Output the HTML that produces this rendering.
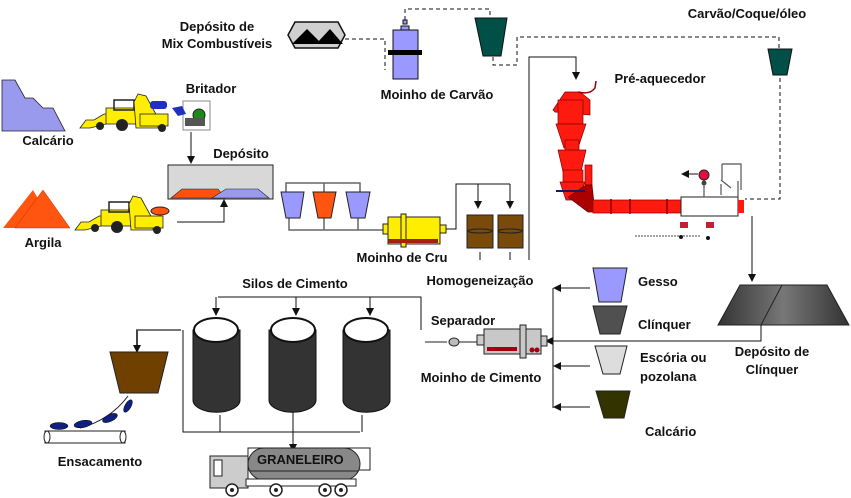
<!DOCTYPE html>
<html><head><meta charset="utf-8"><style>
html,body{margin:0;padding:0;background:#fff}
svg{display:block}
text{font-family:"Liberation Sans",Arial,sans-serif;font-weight:bold;font-size:13px;fill:#111}
</style></head><body>
<svg width="851" height="498" viewBox="0 0 851 498" xmlns="http://www.w3.org/2000/svg">
<defs>
<marker id="a" markerWidth="8" markerHeight="8" refX="4" refY="4" orient="auto" markerUnits="userSpaceOnUse"><path d="M0,0 L8,4 L0,8 Z" fill="#111"/></marker>
<linearGradient id="gr" x1="0" x2="1"><stop offset="0" stop-color="#333"/><stop offset=".5" stop-color="#777"/><stop offset="1" stop-color="#333"/></linearGradient>
<g id="ld">
<polygon points="0,34 6,26 14,26 24,20 34,20 34,28 10,34" fill="#ffee00" stroke="#222" stroke-width=".8"/>
<rect x="26" y="14" width="34" height="16" fill="#ffee00" stroke="#222" stroke-width=".8"/>
<rect x="34" y="6" width="20" height="10" fill="none" stroke="#222" stroke-width="1.5"/>
<polygon points="54,8 58,0 66,2 78,24 78,34 56,34" fill="#ffee00" stroke="#222" stroke-width=".8"/>
<rect x="60" y="20" width="28" height="12" fill="#ffee00" stroke="#222" stroke-width=".8"/>
<circle cx="20" cy="32" r="4" fill="#222"/><circle cx="42" cy="31" r="6" fill="#222"/><circle cx="82" cy="34" r="4" fill="#222"/>
</g>
</defs>
<!-- labels top -->
<text x="217" y="31" text-anchor="middle">Depósito de</text>
<text x="217" y="48" text-anchor="middle">Mix Combustíveis</text>
<text x="437" y="99" text-anchor="middle">Moinho de Carvão</text>
<text x="747" y="18" text-anchor="middle">Carvão/Coque/óleo</text>
<text x="660" y="83" text-anchor="middle">Pré-aquecedor</text>
<text x="211" y="93" text-anchor="middle">Britador</text>
<text x="48" y="145" text-anchor="middle">Calcário</text>
<text x="241" y="158" text-anchor="middle">Depósito</text>
<text x="43" y="247" text-anchor="middle">Argila</text>
<text x="402" y="262" text-anchor="middle">Moinho de Cru</text>
<text x="480" y="285" text-anchor="middle">Homogeneização</text>

<!-- mix deposit -->
<polygon points="295,22 338,22 345,35 338,48 295,48 288,35" fill="#d0d0d0" stroke="#111" stroke-width="1.5"/>
<polygon points="292,44 307,29 322,44" fill="#000"/><polygon points="316,44 330,29 343,44" fill="#000"/>
<path d="M345,39 H385 V70" fill="none" stroke="#111" stroke-dasharray="4,3"/>
<!-- coal mill -->
<rect x="393" y="30" width="25" height="49" fill="#9999ff" stroke="#111"/>
<rect x="388" y="50" width="34" height="5" fill="#000"/>
<rect x="401" y="26" width="8" height="4" fill="#9999ff" stroke="#111"/>
<rect x="403" y="20" width="4" height="4" fill="#9999ff" stroke="#111"/>
<path d="M405,20 V9 H490 V18" fill="none" stroke="#111" stroke-dasharray="4,3"/>
<polygon points="475,18 507,18 501,56 483,56" fill="#005048" stroke="#111"/>
<path d="M493,57 V65 H517 V37 H779 V49" fill="none" stroke="#111" stroke-dasharray="4,3"/>
<polygon points="768,49 792,49 787,75 773,75" fill="#005048" stroke="#111"/>
<path d="M780,78 V199 H745" fill="none" stroke="#111" stroke-dasharray="4,3"/>
<!-- feed line -->
<path d="M529,260 V57 H576 V76" fill="none" stroke="#111" marker-end="url(#a)"/>
<!-- preheater -->
<g fill="#ff1a10" stroke="#800" stroke-width="0.7">
<polygon points="553,110 565,92 580,92 590,100 590,115 555,112"/>
<rect x="558" y="100" width="25" height="24"/>
<polygon points="556,124 586,124 578,148 564,148"/>
<rect x="565" y="140" width="14" height="14"/>
<polygon points="558,150 586,150 580,176 564,176"/>
<rect x="563" y="170" width="20" height="12"/>
<polygon points="560,182 585,182 578,200 566,200"/>
<rect x="585" y="165" width="7" height="20"/>
</g>
<polygon points="568,197 586,185 592,185 595,212 588,212" fill="#a00" stroke="#600" stroke-width="0.7"/>
<path d="M578,92 Q590,95 595,88 L596,81" fill="none" stroke="#900" stroke-width="1.5"/>
<line x1="556" y1="191" x2="585" y2="191" stroke="#1a1a5a" stroke-width="2"/>
<rect x="593" y="200" width="88" height="13" fill="#ff1a10" stroke="#800" stroke-width="0.7"/>
<g stroke="#800" stroke-width="1.5"><line x1="611" y1="199" x2="611" y2="214"/><line x1="630" y1="199" x2="630" y2="214"/><line x1="667" y1="199" x2="667" y2="214"/></g>
<rect x="681" y="197" width="57" height="19" fill="#fff" stroke="#222"/>
<rect x="738" y="200" width="6" height="13" fill="#ff1a10"/>
<path d="M722,164 H741 V190 M722,164 V180 M721,180 L731,188 M721,195 V184 M704,185 V197 M738,181 V197" fill="none" stroke="#555" stroke-width="1.2"/>
<circle cx="704" cy="175" r="5" fill="#e01040" stroke="#222"/>
<path d="M698,174 H685" stroke="#111" marker-end="url(#a)"/>
<circle cx="704" cy="183" r="2.5" fill="#444"/>
<rect x="680" y="222" width="8" height="6" fill="#c02030"/><rect x="706" y="222" width="8" height="6" fill="#c02030"/>
<path d="M635,236 H700" stroke="#444" stroke-dasharray="2,1"/><circle cx="681" cy="237" r="2" fill="#111"/><circle cx="708" cy="238" r="2" fill="#111"/>
<path d="M752,216 V278" stroke="#111" marker-end="url(#a)"/>

<!-- limestone & crusher -->
<polygon points="2,131 2,80 15,80 25,98 33,98 43,108 53,108 65,131" fill="#9999ee" stroke="#222" stroke-width="0.8"/>
<use href="#ld" x="80" y="94"/>
<rect x="150" y="101" width="17" height="8" rx="3" fill="#2030c0"/>
<rect x="183" y="101" width="27" height="29" fill="none" stroke="#888"/>
<circle cx="199" cy="115" r="6" fill="#1a8a1a" stroke="#222"/>
<rect x="185" y="118" width="20" height="8" fill="#555"/>
<polygon points="172,108 182,106 186,114 178,116" fill="#2030c0"/>
<path d="M191,132 V160" stroke="#111" marker-end="url(#a)"/>
<!-- deposit -->
<rect x="168" y="165" width="105" height="34" fill="#d8d8d8" stroke="#222"/>
<polygon points="171,198 182,189 218,189 225,198" fill="#ff5010" stroke="#222" stroke-width=".6"/>
<polygon points="212,198 226,189 258,189 269,198" fill="#9999ee" stroke="#222" stroke-width=".6"/>
<path d="M177,222 H224 V203" fill="none" stroke="#111" marker-end="url(#a)"/>
<!-- clay -->
<polygon points="3,228 33,190 55,228" fill="#ff5510"/>
<polygon points="15,228 43,190 70,228" fill="#ff5510" stroke="#c03000" stroke-width=".5"/>
<use href="#ld" x="75" y="196"/>
<ellipse cx="160" cy="211" rx="9" ry="4" fill="#ff5510" stroke="#222"/>
<!-- raw hoppers -->
<path d="M286,192 V183 H360 V192 M324,183 V192 M289,218 V230 H383 M324,218 V230 M358,218 V230" fill="none" stroke="#666" stroke-width="1.5"/>
<polygon points="281,192 304,192 300,218 286,218" fill="#9999ff" stroke="#222"/>
<polygon points="313,192 336,192 331,218 318,218" fill="#ff5510" stroke="#222"/>
<polygon points="346,192 370,192 365,218 351,218" fill="#9999ff" stroke="#222"/>
<!-- raw mill -->
<rect x="383" y="224" width="5" height="10" fill="#ffee00" stroke="#222"/>
<rect x="388" y="217" width="52" height="27" fill="#ffee00" stroke="#222"/>
<rect x="401" y="214" width="5" height="33" fill="#ffee00" stroke="#222"/>
<rect x="388" y="239" width="50" height="4" fill="#a02010"/>
<rect x="440" y="225" width="6" height="8" fill="#ffee00" stroke="#222"/>
<path d="M446,229 H456 V184 H510" fill="none" stroke="#111"/>
<path d="M478,184 V205" stroke="#111" marker-end="url(#a)"/><path d="M510,184 V205" stroke="#111" marker-end="url(#a)"/>
<rect x="467" y="215" width="26" height="33" fill="#7a4a0a" stroke="#222"/>
<rect x="498" y="215" width="25" height="33" fill="#7a4a0a" stroke="#222"/>
<ellipse cx="480" cy="231" rx="12" ry="2" fill="none" stroke="#222"/><ellipse cx="510" cy="231" rx="12" ry="2" fill="none" stroke="#222"/>
<path d="M480,252 V260 M510,252 V260" stroke="#111"/>

<!-- clinker deposit -->
<polygon points="740,285 827,285 849,325 718,325" fill="url(#gr)" stroke="#222"/>
<line x1="782" y1="285" x2="761" y2="325" stroke="#222"/>
<path d="M761,325 V341 H549" fill="none" stroke="#111" marker-end="url(#a)"/>
<text x="772" y="356" text-anchor="middle">Depósito de</text>
<text x="772" y="374" text-anchor="middle">Clínquer</text>
<!-- additives -->
<path d="M553,408 V288" stroke="#111"/>
<path d="M590,288 H557" stroke="#111" marker-end="url(#a)"/>
<path d="M590,366 H557" stroke="#111" marker-end="url(#a)"/>
<path d="M590,407 H557" stroke="#111" marker-end="url(#a)"/>
<polygon points="593,268 627,268 621,302 599,302" fill="#9999ff" stroke="#222"/>
<polygon points="593,306 627,306 620,334 600,334" fill="#505050" stroke="#222"/>
<polygon points="595,346 627,346 620,374 603,374" fill="#ddd" stroke="#222"/>
<polygon points="596,391 630,391 624,418 604,418" fill="#333300" stroke="#222"/>
<text x="638" y="286">Gesso</text>
<text x="638" y="329">Clínquer</text>
<text x="640" y="362">Escória ou</text>
<text x="640" y="381">pozolana</text>
<text x="645" y="436">Calcário</text>
<!-- cement mill -->
<rect x="477" y="335" width="7" height="10" fill="#ccc" stroke="#222"/>
<rect x="484" y="329" width="57" height="25" fill="#c8c8c8" stroke="#222"/>
<rect x="520" y="325" width="6" height="33" fill="#c8c8c8" stroke="#222"/>
<rect x="541" y="336" width="6" height="10" fill="#ccc" stroke="#222"/>
<g fill="#a00010"><rect x="487" y="347" width="30" height="4"/><circle cx="532" cy="350" r="2.5"/><circle cx="537" cy="350" r="2.5"/></g>
<path d="M425,342 H447" stroke="#222"/><ellipse cx="454" cy="342" rx="5" ry="4" fill="#bbb" stroke="#222"/><path d="M459,342 H477" stroke="#222"/>
<text x="463" y="325" text-anchor="middle">Separador</text>
<text x="481" y="382" text-anchor="middle">Moinho de Cimento</text>
<!-- cement silos -->
<text x="295" y="288" text-anchor="middle">Silos de Cimento</text>
<path d="M218,297 H421 V330" fill="none" stroke="#111"/>
<path d="M216,297 V312" stroke="#111" marker-end="url(#a)"/>
<path d="M296,297 V312" stroke="#111" marker-end="url(#a)"/>
<path d="M370,297 V312" stroke="#111" marker-end="url(#a)"/>
<g fill="#333" stroke="#111">
<path d="M193,330 V400 A23,12 0 0 0 240,400 V330 Z"/>
<path d="M269,330 V400 A23,12 0 0 0 316,400 V330 Z"/>
<path d="M343,330 V400 A23,12 0 0 0 390,400 V330 Z"/>
</g>
<g fill="#fff" stroke="#111" stroke-width="2">
<ellipse cx="216" cy="330" rx="22" ry="12"/><ellipse cx="293" cy="330" rx="22" ry="12"/><ellipse cx="366" cy="330" rx="22" ry="12"/>
</g>
<path d="M183,330 V432 H360 M220,415 V432 M362,415 V432" fill="none" stroke="#111"/>
<path d="M293,412 V448" stroke="#111" marker-end="url(#a)"/>
<!-- bagging -->
<path d="M181,330 H137 V349" fill="none" stroke="#777" stroke-width="2"/>
<path d="M137,330 V349" stroke="#111" marker-end="url(#a)"/>
<polygon points="110,352 168,352 158,393 120,393" fill="#704000" stroke="#222"/>
<path d="M128,396 Q110,420 80,428" fill="none" stroke="#222"/>
<g fill="#102080" stroke="#000" stroke-width=".5">
<ellipse cx="128" cy="406" rx="3" ry="7" transform="rotate(30 128 406)"/>
<ellipse cx="110" cy="418" rx="8" ry="3.5" transform="rotate(-25 110 418)"/>
<ellipse cx="83" cy="424" rx="9" ry="3.5" transform="rotate(-10 83 424)"/>
<ellipse cx="59" cy="426" rx="9" ry="3.5"/>
</g>
<rect x="45" y="431" width="80" height="12" fill="#fff" stroke="#222"/>
<ellipse cx="47" cy="437" rx="3" ry="6" fill="#fff" stroke="#222"/><ellipse cx="123" cy="437" rx="3" ry="6" fill="#fff" stroke="#222"/>
<text x="100" y="466" text-anchor="middle">Ensacamento</text>
<!-- truck -->
<rect x="248" y="448" width="122" height="22" fill="none" stroke="#222"/>
<rect x="248" y="448" width="112" height="32" rx="16" fill="#888" stroke="#222"/>
<line x1="250" y1="471" x2="358" y2="471" stroke="#222"/>
<rect x="210" y="456" width="38" height="32" fill="#ccc" stroke="#222"/>
<rect x="214" y="460" width="8" height="16" fill="#fff" stroke="#222"/>
<rect x="246" y="479" width="110" height="7" fill="#fff" stroke="#222"/>
<text x="257" y="464" font-size="11">GRANELEIRO</text>
<g fill="#fff" stroke="#222" stroke-width="1.5">
<circle cx="232" cy="490" r="6"/><circle cx="276" cy="490" r="6"/><circle cx="325" cy="490" r="6"/><circle cx="341" cy="490" r="6"/>
</g>
<g fill="#222"><circle cx="232" cy="490" r="2"/><circle cx="276" cy="490" r="2"/><circle cx="325" cy="490" r="2"/><circle cx="341" cy="490" r="2"/></g>
</svg>
</body></html>
